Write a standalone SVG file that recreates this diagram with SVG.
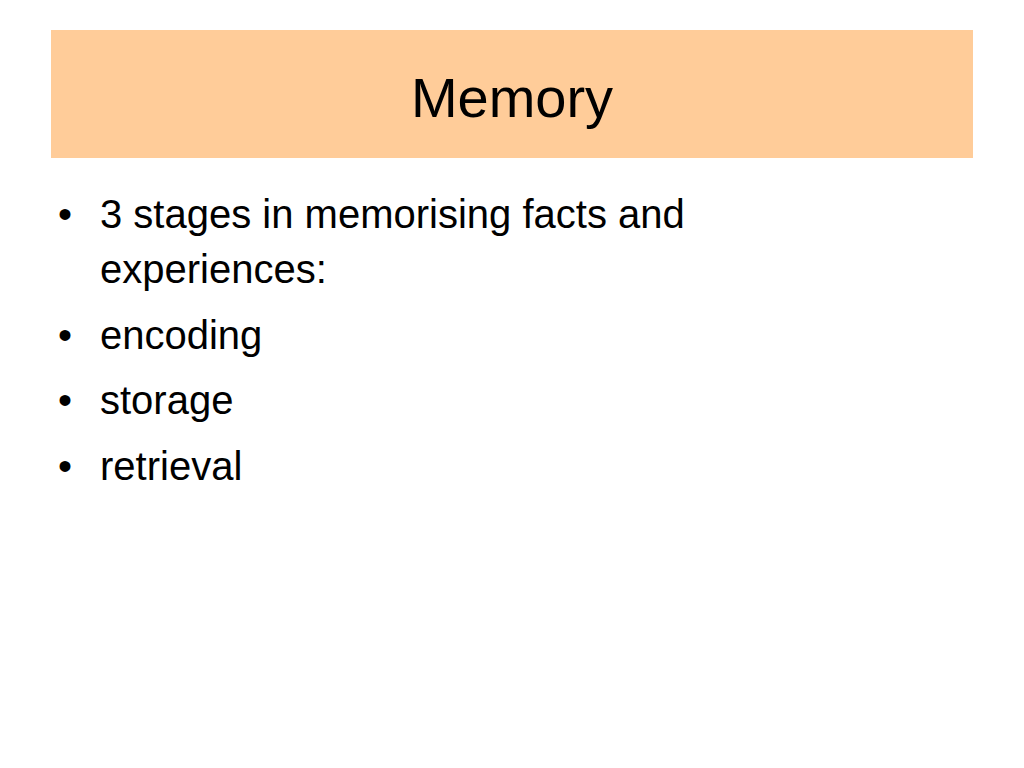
<svg xmlns="http://www.w3.org/2000/svg" width="1024" height="768" viewBox="0 0 1024 768">
<style>
.t{font-family:"Liberation Sans",Arial,sans-serif;fill:#000}
.b{font-size:40px}
</style>
<rect width="1024" height="768" fill="#fff"/>
<g id="header">
<rect x="51" y="30" width="922" height="128" fill="#FFCC99"/>
<text class="t" x="512" y="117" font-size="56" text-anchor="middle">Memory</text>
</g>
<g id="bullets" class="t b">
<text x="58" y="228">•</text><text x="100" y="228">3 stages in memorising facts and</text>
<text x="100" y="283">experiences:</text>
<text x="58" y="349">•</text><text x="100" y="349">encoding</text>
<text x="58" y="414">•</text><text x="100" y="414">storage</text>
<text x="58" y="480">•</text><text x="100" y="480">retrieval</text>
</g>
</svg>
